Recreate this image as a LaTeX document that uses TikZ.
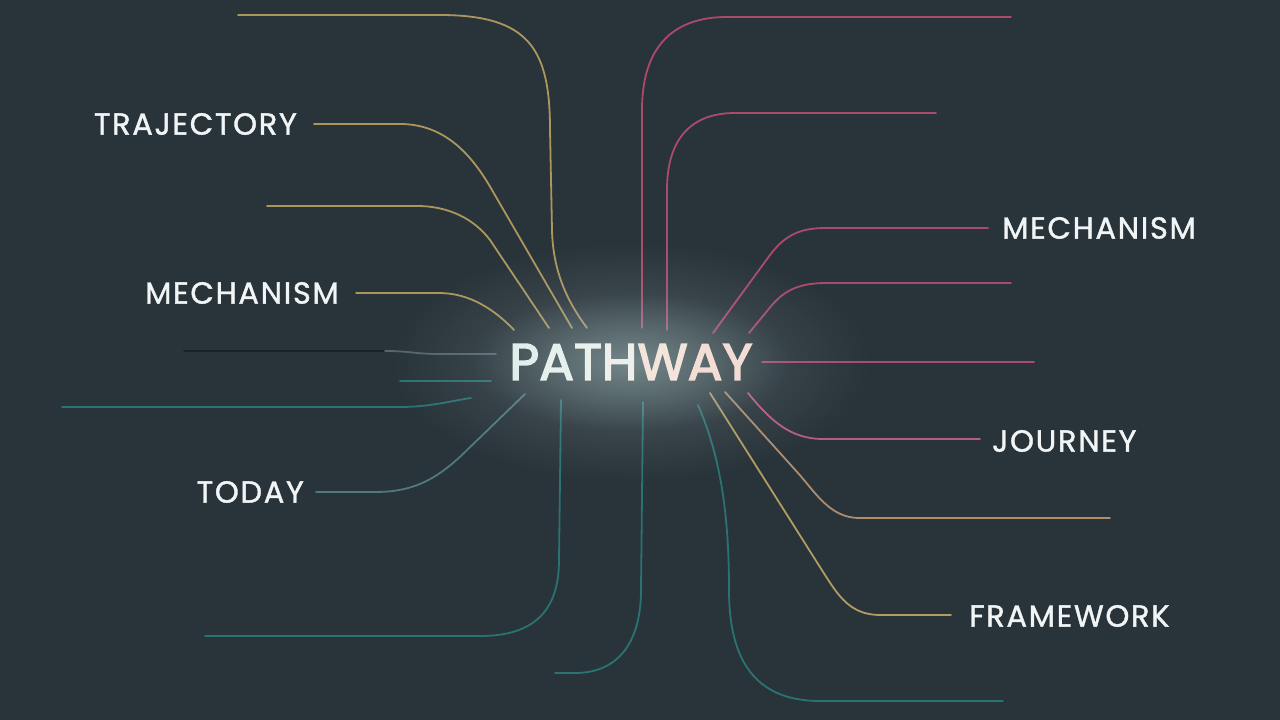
\documentclass[tikz,border=0pt]{standalone}
\usepackage{fontspec}
\usetikzlibrary{fadings}
\setmainfont{Poppins}
\newfontfamily\lblfont{Poppins}[FakeBold=1.2, LetterSpace=5.5]
\newfontfamily\ctrfont{Poppins}[FakeBold=2.8, LetterSpace=2.5]
\tikzfading[name=glowfade, inner color=transparent!0, outer color=transparent!100]
\definecolor{bg}{HTML}{29333A}
\definecolor{gold}{HTML}{AC965E}
\definecolor{pinkc}{HTML}{AC4A6A}
\definecolor{pinkl}{HTML}{B85C7E}
\definecolor{tan}{HTML}{AF8C6C}
\definecolor{goldr}{HTML}{B19C62}
\definecolor{teal}{HTML}{2B7373}
\definecolor{tealg}{HTML}{4E7A7E}
\definecolor{darkl}{HTML}{1B2226}
\definecolor{grayl}{HTML}{56666B}
\definecolor{glowc}{HTML}{A9C3C3}
\definecolor{txt}{HTML}{F2F5F5}
\begin{document}
\begin{tikzpicture}[x=1pt,y=-1pt,
  ray/.style={line width=1.8pt, line cap=round},
  lbl/.style={text=txt, font=\lblfont\fontsize{30.5}{30}\selectfont, inner sep=0pt}]
\useasboundingbox (0,0) rectangle (1280,720);
\fill[bg] (0,0) rectangle (1280,720);

% outer ends
\coordinate (g1) at (238,15);   \coordinate (g1i) at (587,328);
\coordinate (g2) at (314,124);  \coordinate (g2i) at (572,328);
\coordinate (g3) at (267,206);  \coordinate (g3i) at (549,328);
\coordinate (g4) at (356,293);  \coordinate (g4i) at (514,330);
\coordinate (d5) at (184,351);  \coordinate (d5i) at (496,354);
\coordinate (t6) at (400,381);  \coordinate (t6i) at (491,381);
\coordinate (t7) at (62,407);   \coordinate (t7i) at (471,398);
\coordinate (t8) at (316,492);  \coordinate (t8i) at (525,394);
\coordinate (t9) at (205,636);  \coordinate (t9i) at (561,400);
\coordinate (t10) at (555,673); \coordinate (t10i) at (643,402);
\coordinate (t11) at (1003,701);\coordinate (t11i) at (698,405);
\coordinate (p12) at (1034,362);\coordinate (p12i) at (762,362);
\coordinate (p13) at (980,439); \coordinate (p13i) at (748,393);
\coordinate (o14) at (1110,518);\coordinate (o14i) at (725,392);
\coordinate (o15) at (951,615); \coordinate (o15i) at (710,393);
\coordinate (p16) at (1011,17); \coordinate (p16i) at (642,328);
\coordinate (p17) at (936,113); \coordinate (p17i) at (667,330);
\coordinate (p18) at (988,228); \coordinate (p18i) at (713,333);
\coordinate (p19) at (1011,283);\coordinate (p19i) at (749,333);

% left gold
\draw[ray,gold] (g1) -- (440,15) .. controls (530,15) and (550,50) .. (550,130) -- (552,230) .. controls (553,275) and (570,305) .. (g1i);
\draw[ray,gold] (g2) -- (400,124) .. controls (445,124) and (472,155) .. (492,190) -- (g2i);
\draw[ray,gold] (g3) -- (417,206) .. controls (450,206) and (475,220) .. (490,240) -- (g3i);
\draw[ray,gold] (g4) -- (439,293) .. controls (470,293) and (495,310) .. (g4i);
% left dark / teal
\draw[ray,darkl] (d5) -- (385,351);
\draw[ray,grayl] (385,351) .. controls (410,351) and (415,354) .. (440,354) -- (d5i);
\draw[ray,teal] (t6) -- (t6i);
\draw[ray,teal] (t7) -- (400,407) .. controls (430,407) and (450,401) .. (t7i);
\draw[ray,tealg] (t8) -- (375,492) .. controls (410,492) and (434,482) .. (464,453) -- (t8i);
% bottom teal
\draw[ray,teal] (t9) -- (480,636) .. controls (535,636) and (559,610) .. (559,560) -- (t9i);
\draw[ray,teal] (t10) -- (575,673) .. controls (620,673) and (641,640) .. (641,590) -- (t10i);
\draw[ray,teal] (t11) -- (820,701) .. controls (755,701) and (729,660) .. (729,590) .. controls (729,520) and (722,460) .. (t11i);
% right
\draw[ray,pinkc] (p12) -- (p12i);
\draw[ray,pinkl] (p13) -- (823,439) .. controls (790,439) and (770,420) .. (p13i);
\draw[ray,tan] (o14) -- (859,518) .. controls (830,518) and (815,492) .. (798,473) -- (o14i);
\draw[ray,goldr] (o15) -- (880,615) .. controls (850,615) and (838,595) .. (825,575) -- (o15i);
\draw[ray,pinkc] (p16) -- (727,17) .. controls (670,17) and (642,50) .. (642,110) -- (p16i);
\draw[ray,pinkc] (p17) -- (735,113) .. controls (690,113) and (667,140) .. (667,190) -- (p17i);
\draw[ray,pinkc] (p18) -- (826,228) .. controls (800,228) and (785,235) .. (770,255) -- (p18i);
\draw[ray,pinkc] (p19) -- (826,283) .. controls (800,283) and (785,290) .. (772,305) -- (p19i);

% glow
\fill[glowc, fill opacity=0.30, path fading=glowfade] (631,362) ellipse (240pt and 120pt);
\fill[glowc, fill opacity=0.40, path fading=glowfade] (631,362) ellipse (160pt and 70pt);

% centre word
\node[inner sep=0pt, font=\ctrfont\fontsize{51.5}{50}\selectfont] (center) at (631,362)
  {\textcolor[HTML]{E2EEEB}{P}\textcolor[HTML]{E6F0EC}{A}\textcolor[HTML]{EAF0EC}{T}\textcolor[HTML]{EEEFEA}{H}\textcolor[HTML]{F3E4DC}{W}\textcolor[HTML]{F4DDD5}{A}\textcolor[HTML]{F2DCD6}{Y}};

% labels
\node[lbl, anchor=east] (traj) at (297,124) {TRAJECTORY};
\node[lbl, anchor=east] (mechl) at (339,293) {MECHANISM};
\node[lbl, anchor=east] (today) at (304,492) {TODAY};
\node[lbl, anchor=west] (mechr) at (1002,228) {MECHANISM};
\node[lbl, anchor=west] (journey) at (992,441) {JOURNEY};
\node[lbl, anchor=west] (frame) at (969,616) {FRAMEWORK};
\end{tikzpicture}
\end{document}
